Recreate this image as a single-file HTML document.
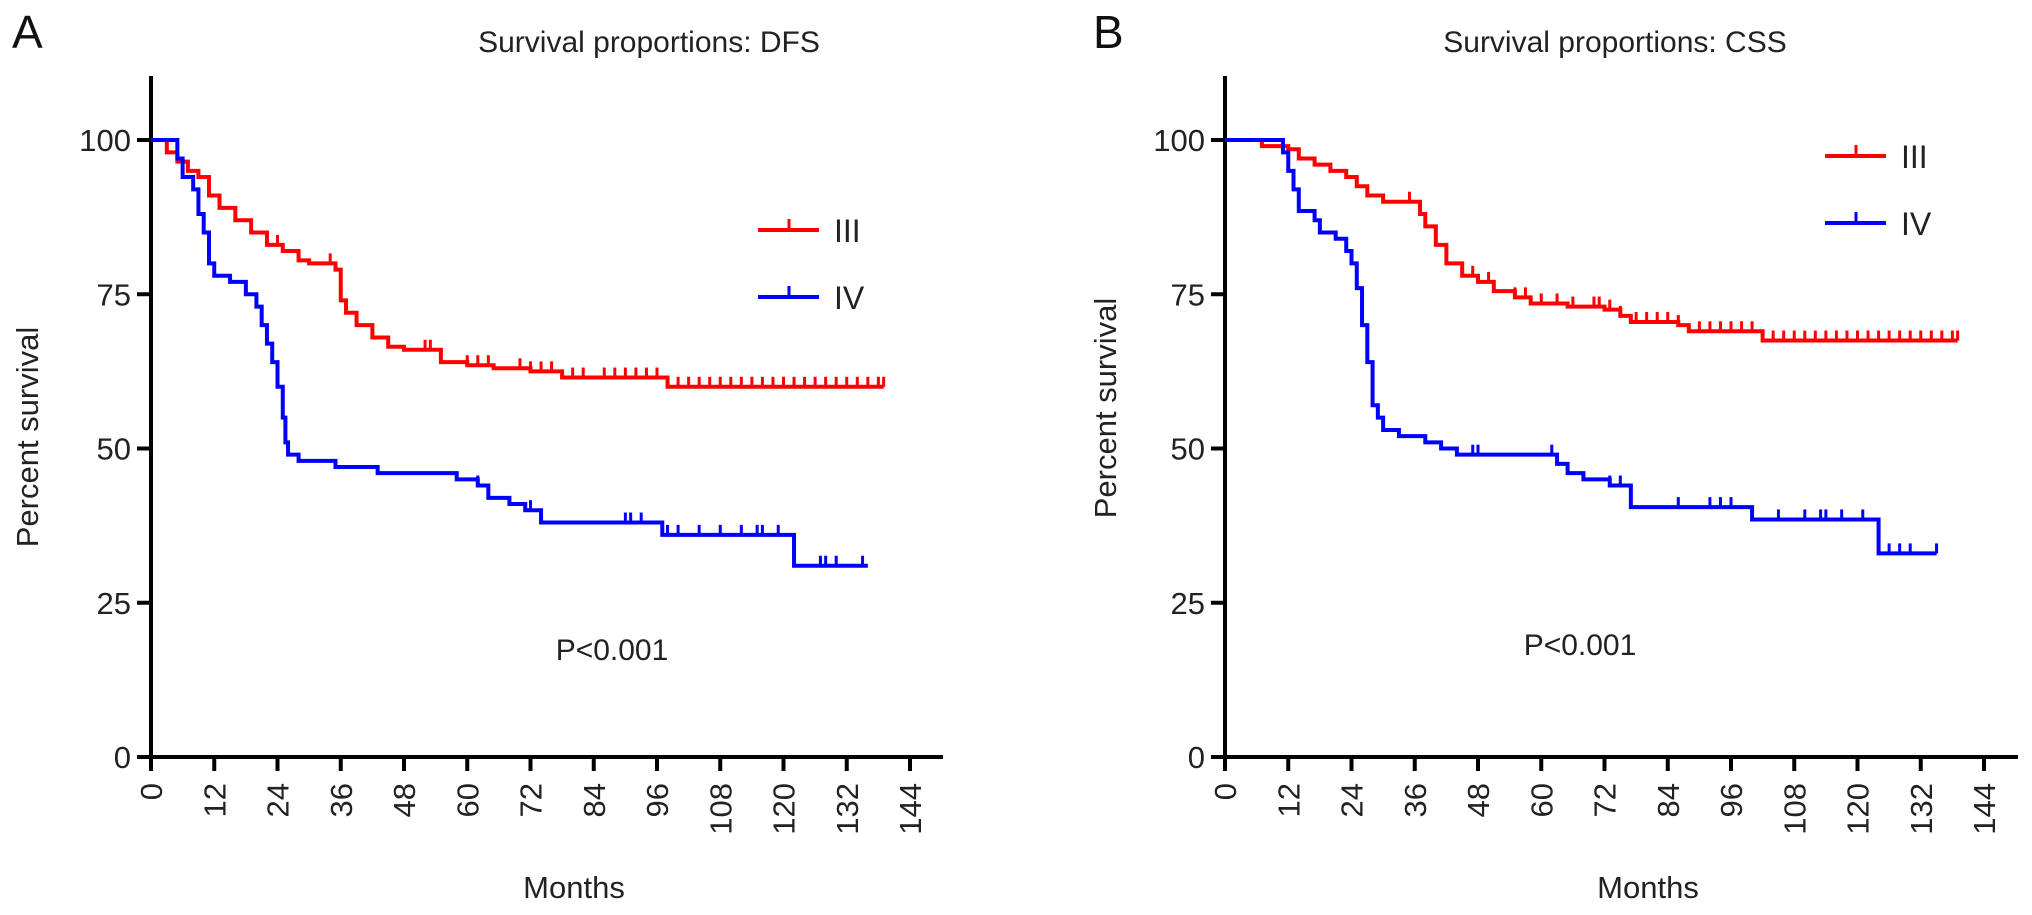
<!DOCTYPE html>
<html><head><meta charset="utf-8"><style>
html,body{margin:0;padding:0;background:#fff;}
svg{display:block;font-family:"Liberation Sans",Arial,sans-serif;}
</style></head><body>
<svg id="fig" width="2032" height="915" viewBox="0 0 2032 915"></svg>
<script>
const xTicks=[0,12,24,36,48,60,72,84,96,108,120,132,144];
const yTicks=[0,25,50,75,100];
const seriesNames=["III","IV"];
const dfsIII=[[0,100],[3,98],[5,96.5],[7,95],[9,94],[11,91],[13,89],[16,87],[19,85],[22,83],[25,82],[28,80.5],[30,80],[35,79],[36,74],[37,72],[39,70],[42,68],[45,66.5],[48,66],[55,64],[60,63.5],[65,63],[72,62.5],[78,61.5],[97,61.5],[98,60],[139,60]];
const dfsIV=[[0,100],[4,100],[5,97],[6,94],[8,92],[9,88],[10,85],[11,80],[12,78],[15,77],[18,75],[20,73],[21,70],[22,67],[23,64],[24,60],[25,55],[25.5,51],[26,49],[28,48],[35,47],[43,46],[58,45],[62,44],[64,42],[68,41],[71,40],[74,38],[96,38],[97,36],[121,36],[122,31],[136,31]];
const dfsIIIcens=[24,34,52,53,60,62,64,70,72,74,76,80,82,86,88,90,92,94,96,100,102,104,106,108,110,112,114,116,118,120,122,124,126,128,130,132,134,136,138,139];
const dfsIVcens=[62,72,74,90,91,93,98,100,104,108,112,115,116,119,127,128,130,135];
const cssIII=[[0,100],[7,99],[12,98.5],[14,97],[17,96],[20,95],[23,94],[25,92.5],[27,91],[30,90],[35,90],[37,88],[38,86],[40,83],[42,80],[45,78],[48,77],[51,75.5],[55,74.5],[58,73.5],[65,73],[72,72.5],[75,71.5],[77,70.5],[86,70],[88,69],[101,69],[102,67.5],[139,67.5]];
const cssIV=[[0,100],[10,100],[11,98],[12,95],[13,92],[14,88.5],[17,87],[18,85],[21,84],[23,82],[24,80],[25,76],[26,70],[27,64],[28,57],[29,55],[30,53],[33,52],[38,51],[41,50],[44,49],[62,49],[63,47.5],[65,46],[68,45],[73,44],[77,40.5],[99,40.5],[100,38.5],[123,38.5],[124,33],[135,33]];
const cssIIIcens=[25,35,38,42,47,50,55,57,60,63,66,70,71,73,75,78,80,82,84,86,90,92,94,96,98,100,104,106,108,110,112,114,116,118,120,122,124,126,128,130,132,134,136,138,139];
const cssIVcens=[47,48,62,73,75,86,92,94,96,105,110,113,114,117,121,126,128,130,135];

const NS="http://www.w3.org/2000/svg";
const svg=document.getElementById('fig');
function mk(tag,attrs,parent){const e=document.createElementNS(NS,tag);for(const k in attrs)e.setAttribute(k,attrs[k]);(parent||svg).appendChild(e);return e;}
function valAt(d,t){let v=d[0][1];for(const p of d){if(p[0]<=t)v=p[1];}return v;}

function panel(cfg){
  const g=mk('g',{});
  
  
  const X=m=>cfg.x0+m*(759/144);
  const Y=v=>757-v*(617/100);
  const ya=mk('line',{x1:cfg.x0,y1:76,x2:cfg.x0,y2:759,stroke:'#000','stroke-width':4},g);
  
  const xa=mk('line',{x1:cfg.x0-14,y1:757,x2:cfg.xEnd,y2:757,stroke:'#000','stroke-width':4},g);
  
  for(const t of yTicks){
    mk('line',{x1:cfg.x0-14,y1:Y(t),x2:cfg.x0,y2:Y(t),stroke:'#000','stroke-width':4},g);
    const tx=mk('text',{x:cfg.x0-20,y:Y(t)+11,'text-anchor':'end','font-size':31,fill:'#222'},g);
    tx.textContent=t;
    
  }
  for(const t of xTicks){
    mk('line',{x1:X(t),y1:757,x2:X(t),y2:771,stroke:'#000','stroke-width':4},g);
    const tx=mk('text',{x:0,y:0,'text-anchor':'end','font-size':31,fill:'#222',transform:`translate(${X(t)+11},783) rotate(-90)`},g);
    tx.textContent=t;
    
  }
  const series=[[cfg.III,cfg.IIIc,'#ff0000','curve-iii'],[cfg.IV,cfg.IVc,'#0000ff','curve-iv']];
  for(const [d,c,col,nm] of series){
    let p=`M${X(d[0][0])},${Y(d[0][1])}`;
    for(let i=1;i<d.length;i++){p+=` H${X(d[i][0])} V${Y(d[i][1])}`;}
    const path=mk('path',{d:p,fill:'none',stroke:col,'stroke-width':4,'stroke-linejoin':'miter'},g);
    
    for(const t of c){
      const v=valAt(d,t);
      const l=mk('line',{x1:X(t),y1:Y(v),x2:X(t),y2:Y(v)-10,stroke:col,'stroke-width':3},g);
      
    }
  }
  const leg=[[cfg.legY,'#ff0000','III'],[cfg.legY+67,'#0000ff','IV']];
  for(const [ly,col,lab] of leg){
    const lg=mk('g',{},g);
    
    mk('line',{x1:cfg.legX,y1:ly,x2:cfg.legX+61,y2:ly,stroke:col,'stroke-width':4},lg);
    mk('line',{x1:cfg.legX+31,y1:ly,x2:cfg.legX+31,y2:ly-11,stroke:col,'stroke-width':3},lg);
    const tx=mk('text',{x:cfg.legX+76,y:ly+12,'font-size':32,fill:'#222'},lg);tx.textContent=lab;
  }
  const lt=mk('text',{x:cfg.letterX,y:48,'font-size':46,fill:'#111'},g);lt.textContent=cfg.letter;
  
  const ti=mk('text',{x:cfg.titleX,y:52,'font-size':30,fill:'#222','text-anchor':'middle'},g);ti.textContent=cfg.title;
  
  const yt=mk('text',{x:0,y:0,'font-size':31,fill:'#222','text-anchor':'middle',transform:`translate(${cfg.yTitleX},${cfg.yTitleY}) rotate(-90)`},g);yt.textContent='Percent survival';
  
  const xt=mk('text',{x:cfg.x0+423,y:898,'font-size':31,fill:'#222','text-anchor':'middle'},g);xt.textContent='Months';
  
  const pv=mk('text',{x:cfg.pX,y:cfg.pY+11,'font-size':30,fill:'#222','text-anchor':'middle'},g);pv.textContent='P<0.001';
  
}
panel({name:'panel-a-dfs',x0:151,xEnd:943,III:dfsIII,IV:dfsIV,IIIc:dfsIIIcens,IVc:dfsIVcens,legX:758,legY:230,letter:'A',letterX:12,title:'Survival proportions: DFS',titleX:649,yTitleX:38,yTitleY:437,pX:612,pY:649});
panel({name:'panel-b-css',x0:1225,xEnd:2018,III:cssIII,IV:cssIV,IIIc:cssIIIcens,IVc:cssIVcens,legX:1825,legY:156,letter:'B',letterX:1093,title:'Survival proportions: CSS',titleX:1615,yTitleX:1116,yTitleY:408,pX:1580,pY:644});
</script>
</body></html>
